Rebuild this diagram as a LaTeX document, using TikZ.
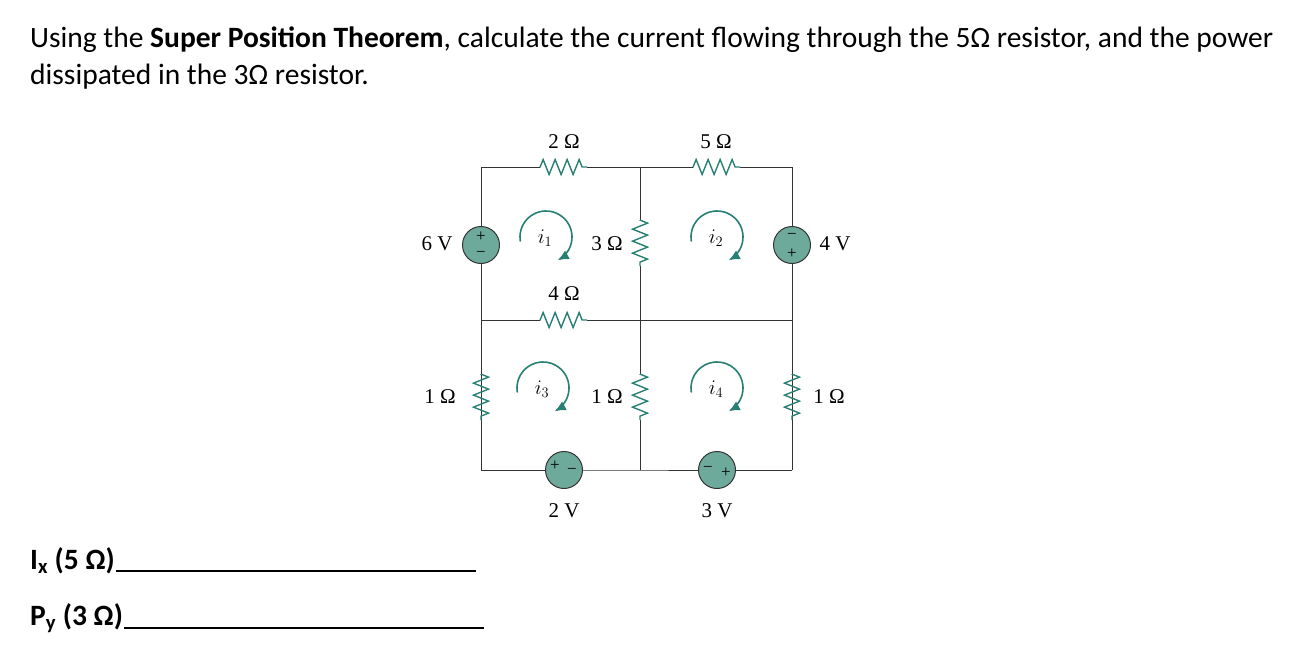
\documentclass[tikz,border=0pt]{standalone}
\usepackage{fontspec}
\setmainfont{Carlito}
\newfontfamily\serif{Liberation Serif}
\usetikzlibrary{decorations.pathmorphing,arrows.meta}
\definecolor{tl}{RGB}{40,128,116}
\definecolor{tf}{RGB}{110,170,155}
\tikzset{
  wire/.style={draw=black!80, line width=1pt},
  res/.style={draw=tl, line width=1.4pt, decorate, decoration={zigzag, segment length=12pt, amplitude=7.5pt, pre length=0.1pt, post length=0.1pt}},
  src/.style={circle, draw=black!80, fill=tf, line width=1pt, minimum size=37pt, inner sep=0pt},
  lab/.style={font=\serif\fontsize{21}{21}\selectfont, inner sep=0pt},
  sgn/.style={font=\serif\fontsize{17}{17}\selectfont, inner sep=0pt},
  txt/.style={font=\fontsize{29.5}{32}\selectfont, inner sep=0pt, anchor=west},
  loop/.style={draw=tl, line width=1.6pt, -{Latex[length=11pt,width=10pt]}},
}
\begin{document}
\begin{tikzpicture}[x=1pt,y=-1pt]
\useasboundingbox (0,0) rectangle (1315,665);
\node[txt] (q1) at (30,40) {Using the \textbf{Super Position Theorem}, calculate the current flowing through the 5Ω resistor, and the power};
\node[txt] (q2) at (30,77) {dissipated in the 3Ω resistor.};
\coordinate (TL) at (481,167); \coordinate (TM) at (640,167); \coordinate (TR) at (792,167);
\coordinate (ML) at (481,320); \coordinate (MM) at (640,320); \coordinate (MR) at (792,320);
\coordinate (BL) at (481,470); \coordinate (BM) at (640,470); \coordinate (BR) at (792,470);
\node[src] (s6) at (481,245) {};
\node[src] (s4) at (792,245) {};
\node[src] (s2) at (564,470) {};
\node[src] (s3) at (717,470) {};
\draw[wire] (s6.north) -- (TL) -- (540,167); \draw[wire] (587,167) -- (693,167); \draw[wire] (740,167) -- (TR) -- (s4.north);
\draw[wire] (s6.south) -- (BL) ; \draw[wire] (s4.south) -- (BR);
\draw[wire] (ML) -- (540,320); \draw[wire] (587,320) -- (MR);
\draw[wire] (TM) -- (640,220); \draw[wire] (640,266) -- (640,374); \draw[wire] (640,420) -- (BM);
\draw[wire] (BL) -- (s2.west); \draw[wire] (s2.east) -- (BM) -- (s3.west); \draw[wire] (s3.east) -- (BR);
\draw[res] (540,167) -- (587,167);
\draw[res] (693,167) -- (740,167);
\draw[res] (540,320) -- (587,320);
\draw[res] (640,220) -- (640,266);
\draw[res] (481,374) -- (481,420);
\draw[res] (640,374) -- (640,420);
\draw[res] (792,374) -- (792,420);
\draw[wire] (481,320) -- (481,374); \draw[wire] (481,420) -- (BL);
\draw[wire] (792,320) -- (792,374); \draw[wire] (792,420) -- (BR);
\node[sgn] at (481,237) {+}; \node[sgn] at (481,254) {−};
\node[sgn] at (792,236) {−}; \node[sgn] at (792,254) {+};
\node[sgn] at (555,466) {+}; \node[sgn] at (572,471) {−};
\node[sgn] at (708,469) {−}; \node[sgn] at (726,473) {+};
\node[lab] (l2) at (564,142) {2 Ω};
\node[lab] (l5) at (716,142) {5 Ω};
\node[lab] (l6) at (437,244) {6 V};
\node[lab] (l4) at (835,244) {4 V};
\node[lab] (l3) at (607,244) {3 Ω};
\node[lab] (l4o) at (564,294) {4 Ω};
\node[lab] (l1a) at (440,397) {1 Ω};
\node[lab] (l1b) at (607,397) {1 Ω};
\node[lab] (l1c) at (829,397) {1 Ω};
\node[lab] (l2v) at (564,511) {2 V};
\node[lab] (l3v) at (717,511) {3 V};
\foreach \cx/\cy/\nm in {546/237/1, 717/237/2, 543/388/3, 717/388/4}{
  \draw[loop] plot[smooth, samples=40, domain=190:-63] ({\cx+26*cos(\x)},{\cy-26*sin(\x)});
  \node[lab] at (\cx-1,\cy+1) {$i_{\nm}$};
}
\node[txt, font=\bfseries\fontsize{29.5}{32}\selectfont] (a1) at (30,561) {I\textsubscript{x} (5 Ω)};
\draw[black, line width=1.3pt] (116,571) -- (476,571);
\node[txt, font=\bfseries\fontsize{29.5}{32}\selectfont] (a2) at (30,618) {P\textsubscript{y} (3 Ω)};
\draw[black, line width=1.3pt] (124,628) -- (484,628);
\end{tikzpicture}
\end{document}
